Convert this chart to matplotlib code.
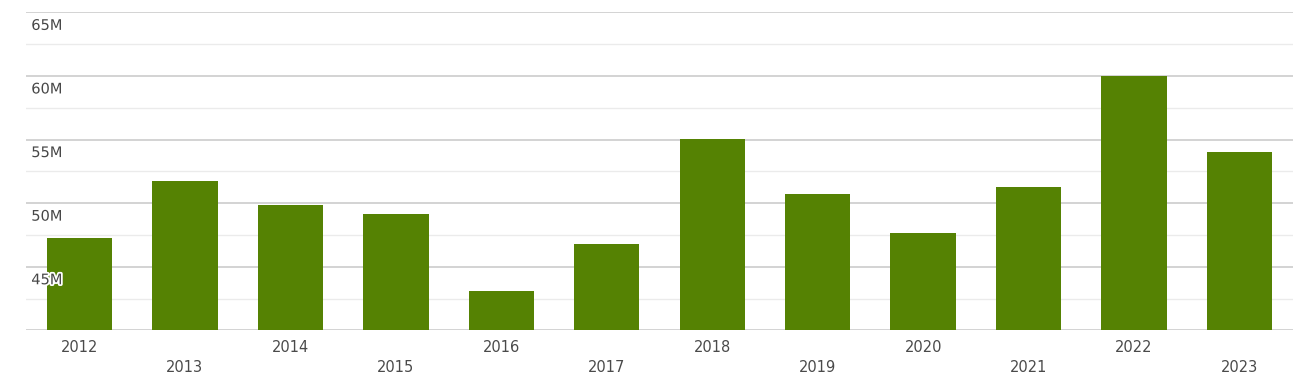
import matplotlib.pyplot as plt
import matplotlib.patheffects as pe
import numpy as np

years = ['2012', '2013', '2014', '2015', '2016', '2017',
         '2018', '2019', '2020', '2021', '2022', '2023']
values = [47.26, 51.74, 49.85, 49.14, 43.09, 46.78,
          55.04, 50.72, 47.65, 51.27, 60.0, 54.02]  # millions
y_ticks = [45, 50, 55, 60, 65]
y_labels = ['45M', '50M', '55M', '60M', '65M']

fig = plt.figure(figsize=(12.93, 3.84), dpi=100)
ax = fig.add_axes([26 / 1293, 1 - 330.3 / 384, 1 - 26 / 1293, (330.3 - 12.3) / 384])

x = np.arange(len(years))
ax.bar(x, values, width=0.62, color='#558203', zorder=3)

ax.set_xlim(-0.507, len(years) - 0.493)
ax.set_ylim(40, 65)

# grid lines (major + minor)
for v in np.arange(40, 65.1, 5):
    ax.axhline(v, color='#cccccc', linewidth=1.2, zorder=1)
for v in np.arange(42.5, 65, 5):
    ax.axhline(v, color='#ebebeb', linewidth=1.0, zorder=1)

# y labels inside the plot, just below each gridline
for v, lab in zip(y_ticks, y_labels):
    ax.annotate(lab, xy=(0, v), xycoords=('axes fraction', 'data'),
                xytext=(3.8, -9.4), textcoords='offset points',
                ha='left', va='center', fontsize=10.5, color='#474747', zorder=5,
                path_effects=[pe.withStroke(linewidth=2.5, foreground='white')])

ax.set_yticks([])
ax.set_xticks(x)
ax.set_xticklabels(years, fontsize=10.5, color='#4a4a4a')
ax.tick_params(axis='x', length=0)
for i, tick in enumerate(ax.xaxis.get_major_ticks()):
    tick.set_pad(7.2 if i % 2 == 0 else 21.7)

for s in ax.spines.values():
    s.set_visible(False)

fig.savefig('out.png', dpi=100)
